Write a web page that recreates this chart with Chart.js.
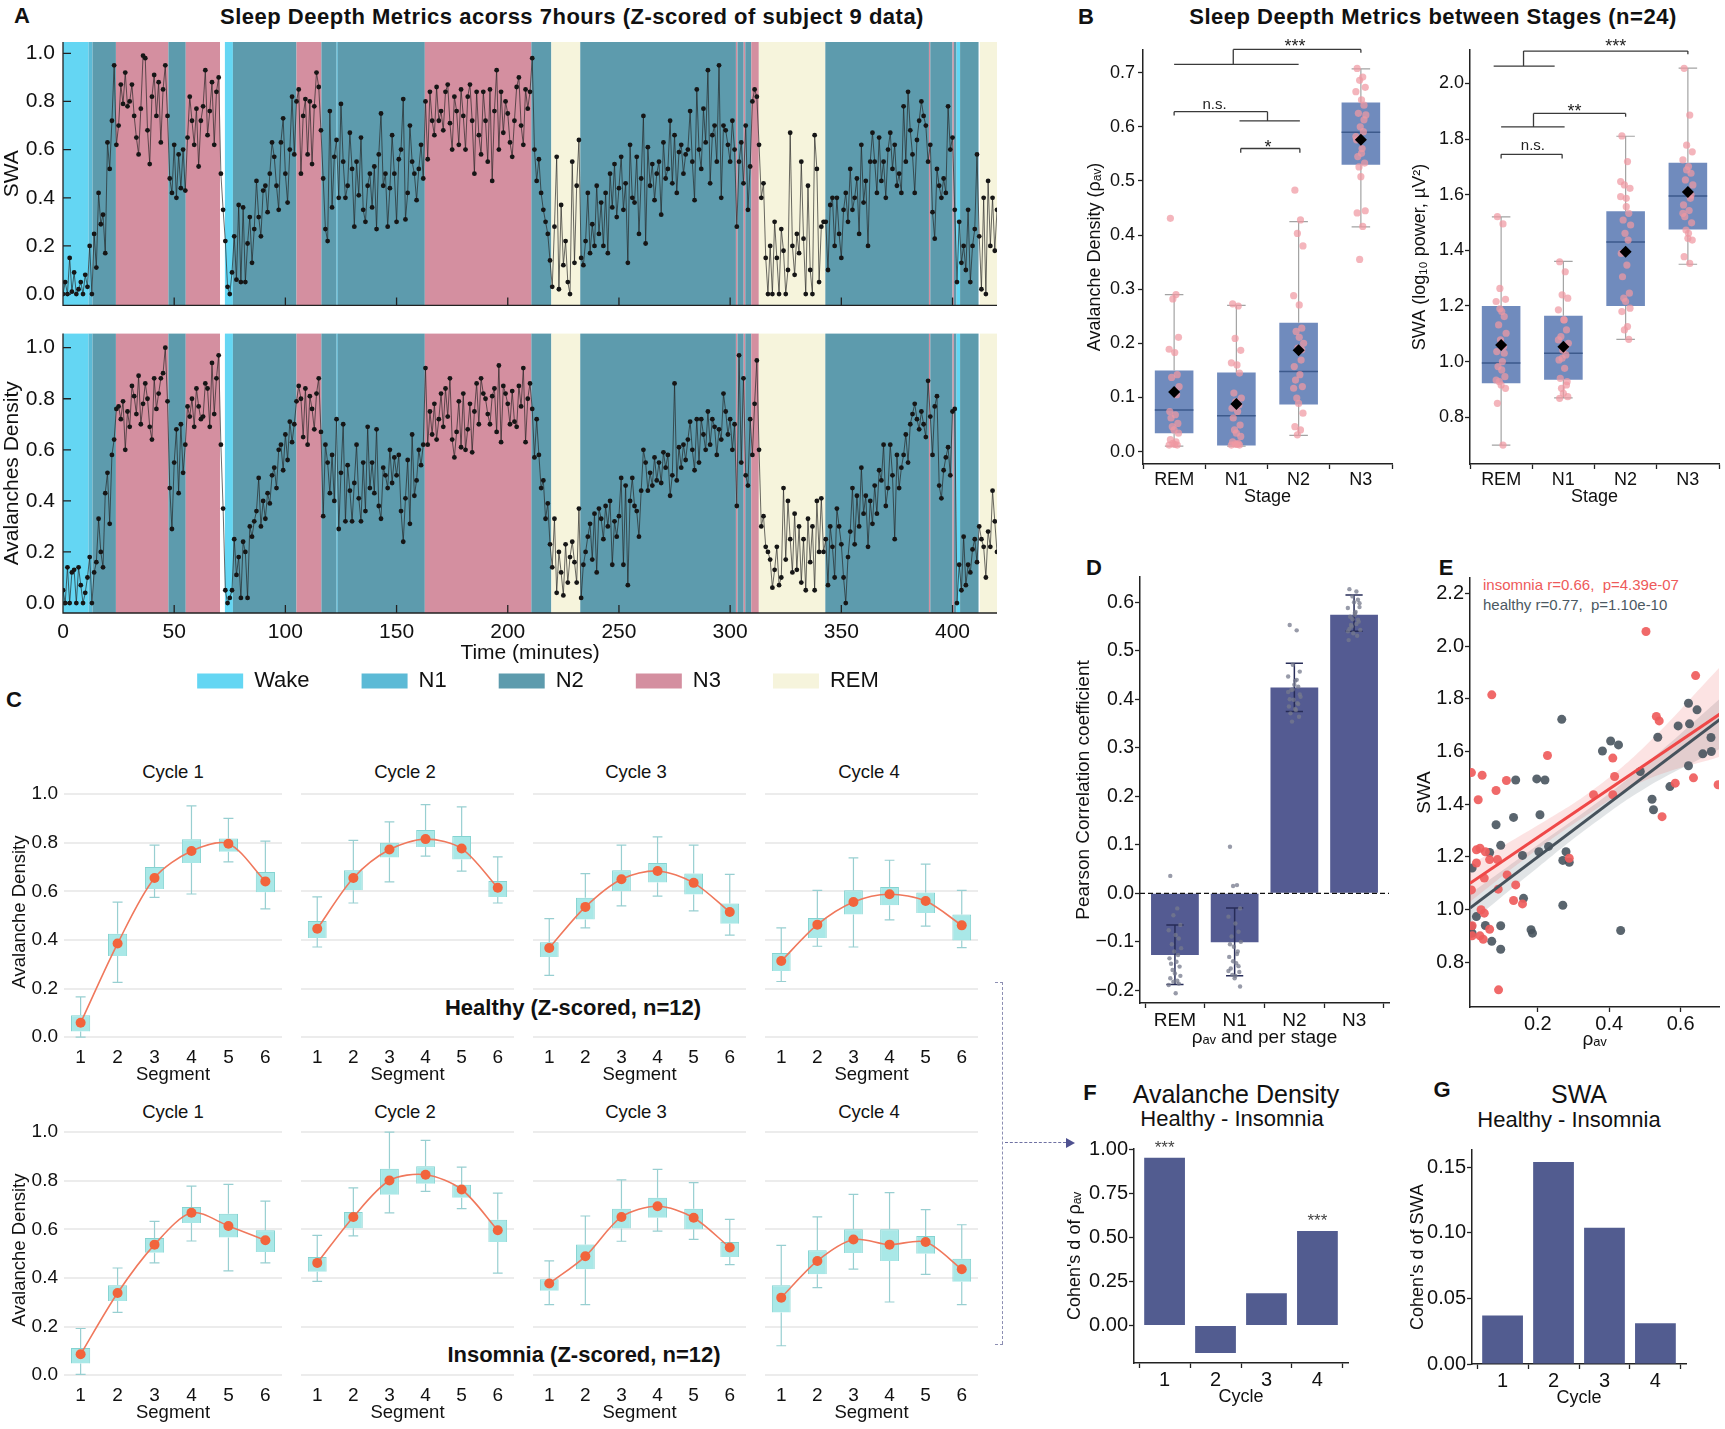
<!DOCTYPE html>
<html>
<head>
<meta charset="utf-8">
<title>Sleep depth metrics</title>
<script src="https://cdn.jsdelivr.net/npm/chart.js@4.4.1/dist/chart.umd.min.js"></script>
<style>
  html, body { margin: 0; padding: 0; background: #fff; }
  body { position: relative; width: 1725px; height: 1429px; overflow: hidden;
         font-family: "Liberation Sans", Arial, Helvetica, sans-serif; color: #111; }
  canvas { position: absolute; }
  .lbl { position: absolute; transform: translate(-50%, -50%); white-space: pre; line-height: 1; }
  .lft { transform: translate(0, -50%); }
  .b { font-weight: bold; }
  .dash { position: absolute; border: 0 dashed #8d8fb3; }
</style>
</head>
<body>

<!-- panel letters and titles -->
<div class="lbl b" style="left:22px;top:16px;font-size:22px">A</div>
<div class="lbl b" style="left:572px;top:17px;font-size:22px;letter-spacing:0.5px">Sleep Deepth Metrics acorss 7hours (Z-scored of subject 9 data)</div>
<div class="lbl b" style="left:1086px;top:17px;font-size:22px">B</div>
<div class="lbl b" style="left:1433px;top:17px;font-size:22px;letter-spacing:0.5px">Sleep Deepth Metrics between Stages (n=24)</div>
<div class="lbl b" style="left:14px;top:700px;font-size:22px">C</div>

<div class="lbl" style="left:173px;top:772px;font-size:18.5px">Cycle 1</div>
<div class="lbl" style="left:405px;top:772px;font-size:18.5px">Cycle 2</div>
<div class="lbl" style="left:636px;top:772px;font-size:18.5px">Cycle 3</div>
<div class="lbl" style="left:869px;top:772px;font-size:18.5px">Cycle 4</div>
<div class="lbl" style="left:173px;top:1112px;font-size:18.5px">Cycle 1</div>
<div class="lbl" style="left:405px;top:1112px;font-size:18.5px">Cycle 2</div>
<div class="lbl" style="left:636px;top:1112px;font-size:18.5px">Cycle 3</div>
<div class="lbl" style="left:869px;top:1112px;font-size:18.5px">Cycle 4</div>
<div class="lbl b" style="left:573px;top:1008px;font-size:22px">Healthy (Z-scored, n=12)</div>
<div class="lbl b" style="left:584px;top:1355px;font-size:22px">Insomnia (Z-scored, n=12)</div>

<div class="lbl b" style="left:1094px;top:568px;font-size:22px">D</div>
<div class="lbl b" style="left:1446px;top:568px;font-size:22px">E</div>
<div class="lbl lft" style="left:1483px;top:584px;font-size:15px;color:#ee5a5a">insomnia r=0.66,  p=4.39e-07</div>
<div class="lbl lft" style="left:1483px;top:604px;font-size:15px;color:#4b5862">healthy r=0.77,  p=1.10e-10</div>

<div class="lbl b" style="left:1090px;top:1093px;font-size:22px">F</div>
<div class="lbl" style="left:1236px;top:1094px;font-size:25px">Avalanche Density</div>
<div class="lbl" style="left:1232px;top:1119px;font-size:22px">Healthy - Insomnia</div>
<div class="lbl b" style="left:1442px;top:1090px;font-size:22px">G</div>
<div class="lbl" style="left:1579px;top:1094px;font-size:25px">SWA</div>
<div class="lbl" style="left:1569px;top:1120px;font-size:22px">Healthy - Insomnia</div>

<!-- dashed connector between C and F -->
<div class="dash" style="left:1002px;top:982px;height:362px;border-left-width:1.5px"></div>
<div class="dash" style="left:995px;top:982px;width:8px;border-top-width:1.5px"></div>
<div class="dash" style="left:995px;top:1344px;width:8px;border-top-width:1.5px"></div>
<div class="dash" style="left:1005px;top:1142px;width:61px;border-top-width:1.5px;border-color:#7072a3"></div>
<div style="position:absolute;left:1066px;top:1138px;width:0;height:0;border-top:5px solid transparent;border-bottom:5px solid transparent;border-left:9px solid #4f5190"></div>

<script>
// ---------- A: one sample per minute, 0..420 min ----------
const swa = [
  0.00,0.05,0.00,0.15,0.01,0.09,0.00,0.02,0.05,0.00,0.08,0.03,
  0.20,0.00,0.25,0.11,0.42,0.29,0.33,0.17,0.63,0.52,0.72,0.95,0.62,
  0.70,0.87,0.79,0.92,0.78,0.80,0.87,0.74,0.65,0.58,0.77,0.99,0.98,0.68,0.54,0.82,0.91,0.74,0.88,0.63,0.85,0.95,0.74,
  0.48,0.42,0.62,0.40,0.58,0.44,0.60,0.43,
  0.65,0.82,0.72,0.62,0.77,0.53,0.72,0.78,0.93,0.66,0.76,0.88,0.62,0.84,0.90,
  0.50,0.35,0.22,0.03,0.00,0.09,
  0.24,0.06,0.37,0.05,0.36,0.05,0.21,0.32,0.13,0.27,0.47,0.32,0.24,0.43,0.45,0.34,0.50,0.63,0.57,0.45,0.35,0.63,0.73,0.50,0.38,0.60,0.82,0.58,0.80,
  0.85,0.50,0.74,0.81,0.58,0.80,0.54,0.78,0.92,0.86,0.68,
  0.48,0.27,0.22,0.76,0.36,0.57,0.64,0.40,0.79,0.55,0.40,0.45,0.67,0.52,0.28,0.55,0.41,0.65,0.35,0.30,0.45,0.50,0.36,0.53,0.27,0.58,0.75,0.45,0.50,0.28,0.44,0.66,0.50,0.30,0.56,0.60,0.81,0.31,0.42,0.70,0.55,0.50,0.39,0.52,0.62,0.48,
  0.80,0.56,0.84,0.72,0.66,0.86,0.72,0.76,0.68,0.84,0.87,0.71,0.60,0.82,0.76,0.62,0.85,0.74,0.60,0.82,0.87,0.72,0.50,0.84,0.66,0.58,0.84,0.72,0.55,0.85,0.47,0.76,0.93,0.60,0.84,0.67,0.80,0.75,0.63,0.57,0.72,0.86,0.90,0.70,0.62,0.85,0.77,0.84,
  0.98,0.60,0.47,0.56,0.42,0.35,0.30,0.25,0.14,
  0.03,0.28,0.57,0.02,0.37,0.12,0.22,0.05,0.00,0.55,0.13,0.45,0.64,
  0.15,0.12,0.22,0.42,0.17,0.29,0.20,0.45,0.25,0.38,0.20,0.42,0.17,0.50,0.36,0.54,0.32,0.44,0.57,0.35,
  0.46,0.13,0.62,0.40,0.38,0.57,0.25,0.48,0.74,0.21,0.61,0.45,0.54,0.39,0.50,0.55,0.33,0.63,0.48,0.52,
  0.72,0.46,0.66,0.42,0.59,0.62,0.50,0.58,0.60,0.76,0.55,0.39,0.85,0.60,0.52,0.77,0.63,0.93,0.46,0.66,
  0.70,0.55,0.95,0.40,0.70,0.68,0.62,0.55,0.72,0.60,
  0.28,0.55,0.63,0.46,0.70,0.35,0.53,0.80,0.85,0.82,0.62,
  0.40,0.46,0.15,0.00,0.20,0.00,0.30,0.15,0.00,0.27,0.18,0.00,0.10,0.67,0.20,0.08,0.25,0.17,0.55,0.23,0.00,0.45,0.10,0.00,0.66,0.52,0.05,0.28,0.30,
  0.30,0.10,0.37,0.40,0.20,0.40,0.25,0.15,0.35,0.42,0.30,0.52,0.35,0.40,0.48,0.25,0.62,0.38,0.47,0.20,
  0.55,0.67,0.55,0.42,0.65,0.47,0.55,0.40,0.60,0.67,0.52,0.62,0.45,0.50,0.42,0.78,0.55,0.84,0.68,0.58,
  0.42,0.64,0.72,0.80,0.74,0.70,0.55,0.62,0.34,0.23,0.52,0.45,0.40,0.48,0.42,0.78,0.60,0.65,
  0.35,0.05,0.30,0.13,0.20,0.10,0.35,0.05,0.20,0.27,0.58,
  0.24,0.02,0.40,0.00,0.47,0.20,0.40,0.18,0.35
];
const avDensity = [
  0.05,0.00,0.14,0.00,0.12,0.13,0.00,0.14,0.07,0.00,0.04,0.10,
  0.18,0.00,0.12,0.16,0.33,0.20,0.14,0.43,0.51,0.31,0.58,0.64,0.76,
  0.77,0.72,0.79,0.60,0.75,0.69,0.85,0.81,0.74,0.89,0.70,0.78,0.86,0.80,0.69,0.64,0.88,0.76,0.82,0.88,0.90,1.00,0.79,
  0.45,0.29,0.55,0.68,0.43,0.70,0.51,0.62,
  0.77,0.73,0.80,0.69,0.84,0.77,0.72,0.73,0.86,0.84,0.69,0.94,0.74,0.88,0.97,
  0.62,0.37,0.05,0.00,0.02,0.05,
  0.25,0.11,0.18,0.02,0.24,0.20,0.02,0.30,0.26,0.32,0.36,0.49,0.30,0.40,0.33,0.43,0.39,0.50,0.53,0.45,0.60,0.62,0.52,0.66,0.56,0.71,0.63,0.70,0.79,
  0.85,0.80,0.65,0.84,0.62,0.81,0.76,0.68,0.82,0.88,0.67,
  0.34,0.62,0.55,0.43,0.58,0.40,0.72,0.29,0.51,0.70,0.32,0.54,0.44,0.32,0.47,0.62,0.41,0.32,0.55,0.36,0.69,0.45,0.55,0.43,0.68,0.38,0.33,0.53,0.50,0.45,0.60,0.47,0.57,0.50,0.58,0.36,0.24,0.41,0.56,0.31,0.66,0.42,0.48,0.60,0.54,0.62,
  0.92,0.62,0.75,0.66,0.78,0.64,0.72,0.82,0.69,0.84,0.73,0.88,0.64,0.57,0.67,0.79,0.61,0.82,0.60,0.68,0.78,0.59,0.75,0.86,0.70,0.88,0.82,0.80,0.74,0.70,0.81,0.84,0.67,0.93,0.63,0.85,0.82,0.78,0.70,0.83,0.71,0.69,0.85,0.77,0.92,0.63,0.80,0.86,
  0.76,0.57,0.72,0.58,0.45,0.48,0.33,0.39,0.23,
  0.14,0.33,0.04,0.20,0.12,0.03,0.23,0.08,0.18,0.24,0.16,0.08,0.37,
  0.02,0.15,0.20,0.26,0.31,0.17,0.35,0.12,0.37,0.33,0.25,0.38,0.30,0.40,0.15,0.32,0.26,0.34,0.49,0.15,
  0.46,0.07,0.40,0.49,0.38,0.36,0.26,0.44,0.60,0.55,0.44,0.51,0.46,0.57,0.48,0.55,0.47,0.59,0.53,0.58,
  0.42,0.50,0.86,0.48,0.61,0.53,0.62,0.56,0.64,0.71,0.60,0.52,0.72,0.55,0.72,0.66,0.60,0.75,0.62,0.72,
  0.69,0.58,0.68,0.64,0.82,0.75,0.66,0.72,0.60,0.70,
  0.38,0.97,0.55,0.88,0.50,0.46,0.72,0.58,0.78,0.95,0.60,
  0.30,0.34,0.22,0.20,0.17,0.06,0.13,0.22,0.07,0.10,0.45,0.17,0.40,0.25,0.12,0.35,0.13,0.30,0.08,0.25,0.05,0.33,0.16,0.30,0.05,0.40,0.20,0.41,0.20,
  0.25,0.07,0.30,0.22,0.10,0.37,0.30,0.23,0.10,0.00,0.18,0.28,0.45,0.23,0.42,0.30,0.53,0.35,0.42,0.22,
  0.40,0.31,0.46,0.35,0.52,0.48,0.62,0.38,0.45,0.62,0.50,0.25,0.58,0.45,0.53,0.58,0.66,0.55,0.70,0.74,
  0.78,0.72,0.68,0.75,0.70,0.65,0.87,0.73,0.58,0.77,0.81,0.46,0.41,0.52,0.57,0.61,0.50,0.75,
  0.76,0.00,0.15,0.05,0.26,0.07,0.15,0.12,0.21,0.25,0.16,
  0.30,0.25,0.22,0.10,0.28,0.22,0.44,0.32,0.20
];
const minutes = swa.map((_, i) => i);
const timeTicks = [0, 50, 100, 150, 200, 250, 300, 350, 400];
const unitTicks = [0, 0.2, 0.4, 0.6, 0.8, 1.0];

// hypnogram (minutes)
const stageStart = [0,11.5,13.3,23.8,47.4,55.2,72.8,76.4,105,116.2,123,123.6,162.7,210.6,219.6,232.6,302.6,303.3,306.1,306.8,309.5,312.9,342.8,389.4,390,400,400.6,401.8,403.4,412.3];
const stageEnd   = [11.5,13.3,23.8,47.4,55.2,70.6,76.4,105,116.2,123,123.6,162.7,210.6,219.6,232.6,302.6,303.3,306.1,306.8,309.5,312.9,342.8,389.4,390,400,400.6,401.8,403.4,411.7,420];
const stageKind  = ['Wake','N1','N2','N3','N2','N3','Wake','N2','N3','N2','N1','N2','N3','N2','REM','N2','N3','N2','N3','N2','N3','REM','N2','N3','N2','N3','N2','Wake','N2','REM'];
const stageNames = ['Wake', 'N1', 'N2', 'N3', 'REM'];
const stageColors = { Wake: '#64d6f3', N1: '#5cbad6', N2: '#5d9bad', N3: '#d48fa0', REM: '#f6f4dc' };

// ---------- B ----------
const bStages = ['REM', 'N1', 'N2', 'N3'];
const avQ1 = [0.034, 0.011, 0.087, 0.530];
const avMed = [0.077, 0.066, 0.148, 0.590];
const avQ3 = [0.150, 0.146, 0.238, 0.645];
const avLo = [0.010, 0.010, 0.030, 0.415];
const avHi = [0.290, 0.270, 0.425, 0.707];
const avMean = [0.110, 0.088, 0.187, 0.576];
const avPts = [
  [0.431,0.290,0.282,0.211,0.189,0.183,0.142,0.137,0.120,0.111,0.105,0.074,0.068,0.062,0.052,0.046,0.040,0.034,0.022,0.018,0.015,0.012,0.012,0.013],
  [0.273,0.269,0.209,0.187,0.164,0.160,0.145,0.108,0.099,0.092,0.086,0.080,0.074,0.062,0.049,0.040,0.034,0.028,0.018,0.015,0.014,0.012,0.012,0.013],
  [0.483,0.428,0.403,0.380,0.288,0.271,0.228,0.222,0.200,0.191,0.169,0.157,0.142,0.132,0.120,0.099,0.089,0.071,0.046,0.040,0.031,0.188,0.117,0.211],
  [0.708,0.692,0.686,0.673,0.665,0.650,0.640,0.625,0.622,0.600,0.591,0.576,0.560,0.545,0.533,0.526,0.508,0.445,0.441,0.416,0.355,0.613,0.582,0.551]
];
const swQ1 = [0.922, 0.935, 1.200, 1.475];
const swMed = [0.995, 1.030, 1.430, 1.595];
const swQ3 = [1.200, 1.165, 1.540, 1.715];
const swLo = [0.700, 0.870, 1.080, 1.350];
const swHi = [1.520, 1.360, 1.810, 2.055];
const swMean = [1.060, 1.053, 1.395, 1.610];
const swPts = [
  [1.521,1.495,1.263,1.224,1.216,1.180,1.162,1.132,1.102,1.078,1.054,1.036,1.000,0.982,0.946,0.928,0.916,0.904,0.850,0.700,1.190,1.030,0.934,0.970],
  [1.359,1.323,1.240,1.228,1.186,1.150,1.114,1.090,1.066,1.042,1.024,1.006,0.976,0.940,0.928,0.904,0.886,0.874,0.868,1.054,1.012,0.916,1.078,1.150],
  [1.811,1.719,1.635,1.623,1.593,1.587,1.533,1.509,1.491,1.461,1.437,1.389,1.347,1.305,1.246,1.228,1.216,1.192,1.180,1.126,1.114,1.080,1.647,1.557],
  [2.054,1.886,1.778,1.754,1.725,1.701,1.677,1.653,1.635,1.611,1.587,1.563,1.543,1.521,1.499,1.473,1.443,1.437,1.377,1.353,1.689,1.599,1.533,1.461]
];
const jitter = [-0.06,0.03,-0.02,0.07,-0.08,0.01,0.05,-0.04,0.08,-0.01,0.04,-0.07,0.02,-0.05,0.06,-0.03,0.00,0.07,-0.06,0.03,-0.02,0.05,-0.08,0.01];

// ---------- C: per cycle, six segments ----------
const segments = [1, 2, 3, 4, 5, 6];
const healthyMean = [[0.059,0.385,0.655,0.766,0.796,0.641],[0.446,0.655,0.772,0.815,0.776,0.615],[0.367,0.536,0.650,0.684,0.635,0.515],[0.313,0.463,0.556,0.588,0.560,0.460]];
const healthyQ1   = [[0.023,0.334,0.610,0.717,0.763,0.596],[0.408,0.604,0.739,0.783,0.731,0.577],[0.330,0.484,0.600,0.636,0.587,0.467],[0.272,0.408,0.505,0.543,0.511,0.398]];
const healthyQ3   = [[0.090,0.425,0.700,0.814,0.817,0.680],[0.478,0.687,0.800,0.852,0.828,0.643],[0.391,0.574,0.687,0.717,0.673,0.550],[0.346,0.490,0.604,0.618,0.595,0.505]];
const healthyLo   = [[0.000,0.225,0.575,0.589,0.721,0.528],[0.371,0.552,0.639,0.745,0.683,0.552],[0.254,0.450,0.540,0.580,0.520,0.420],[0.229,0.374,0.371,0.483,0.457,0.368]];
const healthyHi   = [[0.166,0.556,0.790,0.952,0.900,0.807],[0.577,0.810,0.886,0.957,0.948,0.742],[0.488,0.673,0.790,0.824,0.790,0.670],[0.450,0.604,0.738,0.728,0.712,0.604]];
const insomniaMean = [[0.086,0.338,0.537,0.668,0.614,0.555],[0.462,0.651,0.801,0.825,0.764,0.596],[0.377,0.489,0.651,0.695,0.648,0.525],[0.319,0.470,0.558,0.537,0.548,0.436]];
const insomniaQ1   = [[0.048,0.305,0.504,0.626,0.566,0.507],[0.425,0.605,0.742,0.788,0.730,0.548],[0.347,0.436,0.603,0.648,0.600,0.486],[0.258,0.415,0.503,0.470,0.500,0.384]];
const insomniaQ3   = [[0.112,0.370,0.564,0.692,0.664,0.596],[0.486,0.671,0.849,0.860,0.784,0.640],[0.395,0.538,0.685,0.730,0.685,0.548],[0.370,0.514,0.600,0.600,0.573,0.479]];
const insomniaLo   = [[0.003,0.258,0.462,0.552,0.429,0.462],[0.386,0.573,0.668,0.756,0.685,0.420],[0.290,0.290,0.551,0.593,0.559,0.455],[0.121,0.360,0.436,0.301,0.415,0.290]];
const insomniaHi   = [[0.192,0.441,0.633,0.778,0.785,0.716],[0.575,0.771,1.000,0.966,0.856,0.749],[0.470,0.655,0.804,0.847,0.792,0.641],[0.534,0.651,0.744,0.751,0.681,0.619]];

// ---------- D ----------
const dMean = [-0.127, -0.101, 0.424, 0.574];
const dErrLo = [-0.188, -0.170, 0.375, 0.540];
const dErrHi = [-0.065, -0.030, 0.474, 0.615];
const dPts = [
  [0.036,-0.031,-0.045,-0.065,-0.076,-0.086,-0.093,-0.105,-0.113,-0.120,-0.127,-0.134,-0.141,-0.145,-0.151,-0.158,-0.165,-0.170,-0.175,-0.180,-0.182,-0.186,-0.189,-0.206],
  [0.096,0.017,0.015,-0.031,-0.048,-0.062,-0.079,-0.089,-0.100,-0.110,-0.120,-0.131,-0.144,-0.155,-0.162,-0.168,-0.175,-0.192,-0.105,-0.125,-0.140,-0.150,-0.160,-0.170],
  [0.553,0.542,0.471,0.457,0.447,0.438,0.426,0.419,0.405,0.399,0.392,0.385,0.378,0.371,0.364,0.354,0.430,0.410,0.400,0.440,0.420,0.390,0.415,0.380],
  [0.627,0.622,0.612,0.598,0.588,0.574,0.564,0.553,0.543,0.536,0.531,0.522,0.580,0.570,0.560,0.550,0.600,0.590,0.545,0.555,0.565,0.605,0.540,0.578]
];
const dTicks = [-0.2, -0.1, 0, 0.1, 0.2, 0.3, 0.4, 0.5, 0.6];

// ---------- E ----------
const insX = [0.503,0.071,0.642,0.532,0.540,0.227,0.410,0.415,0.014,0.044,0.033,0.083,0.112,0.356,0.410,0.585,0.636,0.705,0.548,0.028,0.038,0.053,0.065,0.087,0.028,0.050,0.114,0.138,0.089,0.132,0.157,0.288,0.041,0.050,0.016,0.016,0.038,0.047,0.065,0.090,0.014];
const insY = [2.055,1.815,1.888,1.733,1.716,1.585,1.575,1.505,1.520,1.510,1.417,1.452,1.490,1.436,1.436,1.480,1.500,1.474,1.353,1.227,1.233,1.220,1.190,1.190,1.177,1.120,1.132,1.094,1.078,1.035,1.022,1.195,1.000,0.987,0.939,0.901,0.901,0.888,0.926,0.696,1.075];
const hlthX = [0.267,0.622,0.646,0.625,0.593,0.536,0.685,0.404,0.426,0.381,0.662,0.686,0.622,0.570,0.520,0.487,0.524,0.138,0.197,0.220,0.132,0.206,0.083,0.096,0.065,0.203,0.157,0.230,0.279,0.288,0.270,0.016,0.160,0.270,0.096,0.053,0.071,0.096,0.181,0.185,0.432,0.014,0.016,0.028];
const hlthY = [1.722,1.783,1.758,1.705,1.697,1.654,1.653,1.640,1.625,1.602,1.591,1.600,1.546,1.467,1.419,1.524,1.379,1.492,1.496,1.492,1.350,1.360,1.322,1.244,1.217,1.220,1.206,1.240,1.220,1.180,1.187,1.158,1.043,1.017,0.939,0.940,0.880,0.850,0.924,0.911,0.921,0.936,0.911,0.974];
const fitX = [0.01, 0.71];
const insFit = [1.100, 1.742];
const hlthFit = [1.006, 1.722];
const bandX = [0.01, 0.2, 0.35, 0.5, 0.71];
const insBandLo = [1.03, 1.23, 1.37, 1.49, 1.58];
const insBandHi = [1.17, 1.32, 1.45, 1.62, 1.92];
const hlthBandLo = [0.95, 1.16, 1.32, 1.46, 1.61];
const hlthBandHi = [1.06, 1.245, 1.39, 1.55, 1.80];

// ---------- F, G ----------
const cycles = ['1', '2', '3', '4'];
const cohenAv = [0.95, -0.157, 0.183, 0.535];
const cohenAvSig = ['***', '', '', '***'];
const cohenSwa = [0.037, 0.154, 0.104, 0.031];

// ================= drawing =================
const FONT = '"Liberation Sans", Arial, "DejaVu Sans", sans-serif';
Chart.defaults.font.family = FONT;
Chart.defaults.color = '#111';
Chart.defaults.animation = false;
Chart.defaults.responsive = false;
Chart.defaults.maintainAspectRatio = false;
Chart.defaults.events = [];
Chart.defaults.plugins.legend.display = false;
Chart.defaults.plugins.tooltip.enabled = false;

const ink = '#222';

// canvas placed so that the chart area lands on `area` = [l, t, r, b]; m = [left, top, right, bottom] margins
function mount(area, m) {
  const c = document.createElement('canvas');
  const w = area[2] - area[0] + m[0] + m[2];
  const h = area[3] - area[1] + m[1] + m[3];
  c.width = w; c.height = h;
  c.style.left = (area[0] - m[0]) + 'px';
  c.style.top = (area[1] - m[1]) + 'px';
  c.style.width = w + 'px'; c.style.height = h + 'px';
  document.body.appendChild(c);
  return c;
}
const pad = m => ({ padding: { left: 0, top: m[1], right: m[2], bottom: 0 } });
const fixW = w => s => { s.width = w; };
const fixH = h => s => { s.height = h; };
const setTicks = vals => s => { s.ticks = vals.map(v => ({ value: v })); };
const signed = v => (v < -1e-9 ? '\u2212' : '') + Math.abs(v).toFixed(1);

function spine(extra) {
  return Object.assign({
    grid: { display: true, drawOnChartArea: false, drawTicks: true, tickLength: 5, tickColor: ink, tickWidth: 1.3 },
    border: { display: true, color: ink, width: 1.5 }
  }, extra);
}

// hypnogram background
const stageBands = {
  id: 'stageBands',
  beforeDatasetsDraw(chart) {
    const { ctx, chartArea: a, scales: { x } } = chart;
    ctx.save();
    stageStart.forEach((s, i) => {
      const x0 = x.getPixelForValue(s), x1 = x.getPixelForValue(stageEnd[i]);
      ctx.fillStyle = stageColors[stageKind[i]];
      ctx.fillRect(x0, a.top, Math.max(x1 - x0, 1), a.bottom - a.top);
    });
    ctx.restore();
  }
};

// inward tick marks and spines for panel A
const innerTicks = {
  id: 'innerTicks',
  afterDatasetsDraw(chart) {
    const { ctx, chartArea: a, scales: { x, y } } = chart;
    ctx.save();
    ctx.strokeStyle = ink; ctx.lineWidth = 1.3;
    ctx.beginPath();
    x.ticks.forEach(t => { const p = x.getPixelForValue(t.value); ctx.moveTo(p, a.bottom); ctx.lineTo(p, a.bottom - 8); });
    y.ticks.forEach(t => { const p = y.getPixelForValue(t.value); ctx.moveTo(a.left, p); ctx.lineTo(a.left + 8, p); });
    ctx.moveTo(a.left, a.top); ctx.lineTo(a.left, a.bottom); ctx.lineTo(a.right, a.bottom);
    ctx.stroke();
    ctx.restore();
  }
};

// whiskers / medians for box datasets, error bars for bar datasets
const whiskers = {
  id: 'whiskers',
  afterDatasetDraw(chart, args) {
    const ds = chart.data.datasets[args.index];
    if (!ds.hi) return;
    const { ctx } = chart, y = chart.scales.y;
    ctx.save();
    args.meta.data.forEach((bar, i) => {
      const cap = bar.width * ds.capRatio;
      const pHi = y.getPixelForValue(ds.hi[i]), pLo = y.getPixelForValue(ds.lo[i]);
      ctx.strokeStyle = ds.whiskerColor; ctx.lineWidth = ds.whiskerWidth || 1.2;
      ctx.beginPath();
      if (ds.errBar) {
        ctx.moveTo(bar.x, pHi); ctx.lineTo(bar.x, pLo);
      } else {
        const r = ds.data[i].y;
        ctx.moveTo(bar.x, y.getPixelForValue(Math.max(r[0], r[1]))); ctx.lineTo(bar.x, pHi);
        ctx.moveTo(bar.x, y.getPixelForValue(Math.min(r[0], r[1]))); ctx.lineTo(bar.x, pLo);
      }
      ctx.moveTo(bar.x - cap, pHi); ctx.lineTo(bar.x + cap, pHi);
      ctx.moveTo(bar.x - cap, pLo); ctx.lineTo(bar.x + cap, pLo);
      ctx.stroke();
      if (ds.med) {
        const pm = y.getPixelForValue(ds.med[i]);
        ctx.strokeStyle = ds.medianColor; ctx.lineWidth = 1.5;
        ctx.beginPath(); ctx.moveTo(bar.x - bar.width / 2, pm); ctx.lineTo(bar.x + bar.width / 2, pm); ctx.stroke();
      }
    });
    ctx.restore();
  }
};

// significance brackets, given in data units
function makeBrackets(lines, notes) {
  return {
    id: 'brackets',
    afterDraw(chart) {
      const { ctx, scales: { x, y } } = chart;
      ctx.save();
      ctx.strokeStyle = '#3a3a3a'; ctx.lineWidth = 1.3;
      ctx.beginPath();
      lines.forEach(([x1, y1, x2, y2]) => {
        ctx.moveTo(x.getPixelForValue(x1), y.getPixelForValue(y1));
        ctx.lineTo(x.getPixelForValue(x2), y.getPixelForValue(y2));
      });
      ctx.stroke();
      ctx.fillStyle = '#222'; ctx.textAlign = 'center'; ctx.textBaseline = 'alphabetic';
      notes.forEach(([t, xv, yv, size]) => {
        ctx.font = size + 'px ' + FONT;
        ctx.fillText(t, x.getPixelForValue(xv), y.getPixelForValue(yv));
      });
      ctx.restore();
    }
  };
}

const zeroLine = {
  id: 'zeroLine',
  afterDatasetsDraw(chart) {
    const { ctx, chartArea: a, scales: { y } } = chart;
    const p = y.getPixelForValue(0);
    ctx.save(); ctx.setLineDash([5, 3]); ctx.strokeStyle = '#111'; ctx.lineWidth = 1.3;
    ctx.beginPath(); ctx.moveTo(a.left, p); ctx.lineTo(a.right, p); ctx.stroke(); ctx.restore();
  }
};

function makeStars(marks) {
  return {
    id: 'stars',
    afterDatasetsDraw(chart) {
      const { ctx } = chart, meta = chart.getDatasetMeta(0);
      ctx.save(); ctx.fillStyle = '#444'; ctx.font = '17px ' + FONT;
      ctx.textAlign = 'center'; ctx.textBaseline = 'alphabetic';
      meta.data.forEach((bar, i) => { if (marks[i]) ctx.fillText(marks[i], bar.x, Math.min(bar.y, bar.base) - 5); });
      ctx.restore();
    }
  };
}

// ---------- A ----------
function timeSeries(values, area, m, yMin, yMax, yTitle, showX) {
  return new Chart(mount(area, m), {
    type: 'line',
    data: { datasets: [{
      data: values.map((v, i) => ({ x: minutes[i], y: v })),
      borderColor: 'rgba(35,35,35,0.75)', borderWidth: 0.9,
      pointRadius: 2.4, pointBackgroundColor: '#161616', pointBorderWidth: 0, tension: 0
    }]},
    options: {
      layout: pad(m),
      scales: {
        x: { type: 'linear', min: 0, max: 420, afterFit: fixH(m[3]), afterBuildTicks: setTicks(timeTicks),
             grid: { display: false, drawTicks: false }, border: { display: false },
             ticks: { display: showX, font: { size: 21 }, padding: 7, color: '#111' },
             title: { display: showX, text: 'Time (minutes)', font: { size: 21 }, padding: 0, color: '#111' } },
        y: { min: yMin, max: yMax, afterFit: fixW(m[0]), afterBuildTicks: setTicks(unitTicks),
             grid: { display: false, drawTicks: false }, border: { display: false },
             ticks: { font: { size: 21 }, padding: 8, color: '#111', callback: v => v.toFixed(1) },
             title: { display: true, text: yTitle, font: { size: 21 }, padding: 0, color: '#111' } }
      }
    },
    plugins: [stageBands, innerTicks]
  });
}
timeSeries(swa, [63, 42, 997, 322], [63, 30, 20, 4], -0.047, 1.047, 'SWA', false);
timeSeries(avDensity, [63, 333, 997, 613], [63, 20, 20, 53], -0.039, 1.055, 'Avalanches Density', true);

// stage legend
(function () {
  const c = document.createElement('canvas');
  c.width = 800; c.height = 150;
  c.style.left = '138px'; c.style.top = '618px';
  document.body.appendChild(c);
  new Chart(c, {
    type: 'bar',
    data: { labels: [], datasets: stageNames.map(n => ({ label: n, data: [], backgroundColor: stageColors[n], borderWidth: 0 })) },
    options: {
      layout: { padding: 0 },
      scales: { x: { display: false }, y: { display: false } },
      plugins: { legend: { display: true, position: 'top',
        labels: { boxWidth: 46, boxHeight: 15, padding: 52, font: { size: 22 }, color: '#111' } } }
    }
  });
})();

// ---------- B ----------
function stageBoxes(area, m, s) {
  return new Chart(mount(area, m), {
    type: 'bar',
    data: { datasets: [
      { type: 'scatter', data: s.mean.map((v, i) => ({ x: i, y: v })), pointStyle: 'rectRot', pointRadius: 6, backgroundColor: '#000', borderWidth: 0 },
      { type: 'scatter', data: s.pts.flatMap((col, i) => col.map((v, k) => ({ x: i + jitter[k], y: v }))),
        pointRadius: 3.6, backgroundColor: 'rgba(240,152,162,0.72)', borderWidth: 0 },
      { type: 'bar', data: s.q1.map((v, i) => ({ x: i, y: [v, s.q3[i]] })), backgroundColor: 'rgba(80,114,174,0.82)', borderWidth: 0,
        barPercentage: 0.62, categoryPercentage: 1, lo: s.lo, hi: s.hi, med: s.med,
        whiskerColor: '#a3a3a3', medianColor: '#3d5a8c', capRatio: 0.24 }
    ]},
    options: {
      layout: pad(m),
      scales: {
        x: spine({ type: 'linear', min: -0.5, max: 3.5, offset: false, afterFit: fixH(m[3]), afterBuildTicks: setTicks([0, 1, 2, 3]),
          ticks: { font: { size: 18 }, padding: 0, color: '#111', callback: v => bStages[v] },
          title: { display: true, text: 'Stage', font: { size: 18 }, padding: 0, color: '#111' } }),
        y: spine({ min: s.yMin, max: s.yMax, afterFit: fixW(m[0]), afterBuildTicks: setTicks(s.ticks),
          ticks: { font: { size: 18 }, padding: s.tickPad, color: '#111', callback: v => v.toFixed(1) },
          title: { display: true, text: s.title, font: { size: 18 }, padding: 0, color: '#111' } })
      }
    },
    plugins: [whiskers, makeBrackets(s.lines, s.notes)]
  });
}
stageBoxes([1143, 50, 1392, 464], [59, 48, 12, 44], {
  q1: avQ1, q3: avQ3, med: avMed, lo: avLo, hi: avHi, mean: avMean, pts: avPts,
  yMin: -0.023, yMax: 0.742, ticks: [0, 0.1, 0.2, 0.3, 0.4, 0.5, 0.6, 0.7], tickPad: 3,
  title: 'Avalanche Density (\u03C1\u2090\u1D65)',
  lines: [[0, 0.7155, 2, 0.7155], [0.95, 0.7155, 0.95, 0.743], [0.95, 0.743, 3, 0.743], [3, 0.743, 3, 0.737],
          [0, 0.621, 0, 0.628], [0, 0.628, 1.5, 0.628], [1.5, 0.628, 1.5, 0.611], [1.05, 0.611, 2.02, 0.611],
          [1.07, 0.552, 1.07, 0.560], [1.07, 0.560, 2.02, 0.560], [2.02, 0.560, 2.02, 0.552]],
  notes: [['***', 1.94, 0.739, 18], ['n.s.', 0.65, 0.633, 15], ['*', 1.51, 0.552, 18]]
});
stageBoxes([1470, 50, 1719, 464], [61, 48, 6, 44], {
  q1: swQ1, q3: swQ3, med: swMed, lo: swLo, hi: swHi, mean: swMean, pts: swPts,
  yMin: 0.632, yMax: 2.12, ticks: [0.8, 1.0, 1.2, 1.4, 1.6, 1.8, 2.0], tickPad: 1,
  title: 'SWA (log\u2081\u2080 power, \u00B5V\u00B2)',
  lines: [[-0.12, 2.062, 0.86, 2.062], [0.36, 2.062, 0.36, 2.116], [0.36, 2.116, 3, 2.116], [3, 2.116, 3, 2.105],
          [0, 1.844, 1.02, 1.844], [0.52, 1.844, 0.52, 1.892], [0.52, 1.892, 2, 1.892], [2, 1.892, 2, 1.88],
          [0, 1.73, 0, 1.745], [0, 1.745, 0.98, 1.745], [0.98, 1.745, 0.98, 1.73]],
  notes: [['***', 1.84, 2.1135, 18], ['**', 1.18, 1.88, 18], ['n.s.', 0.51, 1.76, 15]]
});

// ---------- C ----------
function cyclePanel(area, m, mean, q1, q3, lo, hi, showY) {
  return new Chart(mount(area, m), {
    type: 'bar',
    data: { datasets: [
      { type: 'line', data: mean.map((v, i) => ({ x: segments[i], y: v })), borderColor: '#f0785c', borderWidth: 1.6,
        pointRadius: 5, pointBackgroundColor: '#f2643c', pointBorderWidth: 0, tension: 0.3 },
      { type: 'bar', data: q1.map((v, i) => ({ x: segments[i], y: [v, q3[i]] })), backgroundColor: 'rgba(160,230,228,0.9)',
        borderColor: '#84d3d1', borderWidth: 1, barPercentage: 0.52, categoryPercentage: 1,
        lo: lo, hi: hi, whiskerColor: '#98cfd1', capRatio: 0.26 }
    ]},
    options: {
      layout: pad(m),
      scales: {
        x: { type: 'linear', min: 0.55, max: 6.45, offset: false, afterFit: fixH(m[3]), afterBuildTicks: setTicks(segments),
             grid: { display: false, drawTicks: false }, border: { display: false },
             ticks: { font: { size: 19 }, padding: 4, color: '#111' },
             title: { display: true, text: 'Segment', font: { size: 18.5 }, padding: 0, color: '#111' } },
        y: { min: -0.02, max: 1.05, afterFit: fixW(m[0]), afterBuildTicks: setTicks(unitTicks),
             grid: { color: '#ececec', lineWidth: 2, drawTicks: false }, border: { display: false },
             ticks: { display: showY, font: { size: 19 }, padding: 6, color: '#111', callback: v => v.toFixed(1) },
             title: { display: showY, text: 'Avalanche Density', font: { size: 18.5 }, padding: 0, color: '#111' } }
      }
    },
    plugins: [whiskers]
  });
}
const panelX = [[64, 282], [296, 514], [528, 746], [760, 978]];
panelX.forEach(([l, r], k) => {
  const m = k === 0 ? [55, 25, 10, 44] : [0, 25, 10, 44];
  cyclePanel([l, 782, r, 1042], m, healthyMean[k], healthyQ1[k], healthyQ3[k], healthyLo[k], healthyHi[k], k === 0);
  cyclePanel([l, 1120, r, 1380], m, insomniaMean[k], insomniaQ1[k], insomniaQ3[k], insomniaLo[k], insomniaHi[k], k === 0);
});

// ---------- D ----------
new Chart(mount([1140, 577, 1389, 1003], [68, 30, 12, 46]), {
  type: 'bar',
  data: { datasets: [
    { type: 'scatter', data: dPts.flatMap((col, i) => col.map((v, k) => ({ x: i + jitter[k] * 1.3, y: v }))),
      pointRadius: 2.2, backgroundColor: 'rgba(118,122,140,0.75)', borderWidth: 0 },
    { type: 'bar', data: dMean.map((v, i) => ({ x: i, y: v })), backgroundColor: '#545b92', borderWidth: 0,
      barPercentage: 0.8, categoryPercentage: 1, lo: dErrLo, hi: dErrHi, errBar: true,
      whiskerColor: '#272c58', whiskerWidth: 1.5, capRatio: 0.18 }
  ]},
  options: {
    layout: pad([68, 30, 12, 46]),
    scales: {
      x: spine({ type: 'linear', min: -0.585, max: 3.585, offset: false, afterFit: fixH(46), afterBuildTicks: setTicks([0, 1, 2, 3]),
        ticks: { font: { size: 19 }, padding: 1, color: '#111', callback: v => bStages[v] },
        title: { display: true, text: '\u03C1\u2090\u1D65 and per stage', font: { size: 19 }, padding: 0, color: '#111' } }),
      y: spine({ min: -0.226, max: 0.652, afterFit: fixW(68), afterBuildTicks: setTicks(dTicks),
        ticks: { font: { size: 19.5 }, padding: 1, color: '#111', callback: v => signed(v) },
        title: { display: true, text: 'Pearson Correlation coefficient', font: { size: 19 }, padding: 0, color: '#111' } })
    }
  },
  plugins: [whiskers, zeroLine]
});

// ---------- E ----------
const pairs = (xs, ys) => xs.map((x, i) => ({ x: x, y: ys[i] }));
new Chart(mount([1470, 578, 1719, 1007], [57, 30, 6, 44]), {
  type: 'scatter',
  data: { datasets: [
    { type: 'line', data: pairs(fitX, insFit), borderColor: '#ef4848', borderWidth: 3, pointRadius: 0 },
    { type: 'line', data: pairs(fitX, hlthFit), borderColor: '#46525c', borderWidth: 3, pointRadius: 0 },
    { data: pairs(insX, insY), pointRadius: 4.5, backgroundColor: 'rgba(239,92,92,0.92)', borderWidth: 0 },
    { data: pairs(hlthX, hlthY), pointRadius: 4.5, backgroundColor: 'rgba(72,84,94,0.9)', borderWidth: 0 },
    { type: 'line', data: pairs(bandX, insBandHi), borderWidth: 0, pointRadius: 0, tension: 0.4, fill: '+1', backgroundColor: 'rgba(239,90,90,0.17)' },
    { type: 'line', data: pairs(bandX, insBandLo), borderWidth: 0, pointRadius: 0, tension: 0.4, fill: false },
    { type: 'line', data: pairs(bandX, hlthBandHi), borderWidth: 0, pointRadius: 0, tension: 0.4, fill: '+1', backgroundColor: 'rgba(80,92,105,0.17)' },
    { type: 'line', data: pairs(bandX, hlthBandLo), borderWidth: 0, pointRadius: 0, tension: 0.4, fill: false }
  ]},
  options: {
    layout: pad([57, 30, 6, 44]),
    scales: {
      x: spine({ type: 'linear', min: 0.01, max: 0.7075, afterFit: fixH(44), afterBuildTicks: setTicks([0.2, 0.4, 0.6]),
        ticks: { font: { size: 20 }, padding: 0, color: '#111', callback: v => v.toFixed(1) },
        title: { display: true, text: '\u03C1\u2090\u1D65', font: { size: 19 }, padding: 0, color: '#111' } }),
      y: spine({ min: 0.631, max: 2.258, afterFit: fixW(57), afterBuildTicks: setTicks([0.8, 1.0, 1.2, 1.4, 1.6, 1.8, 2.0, 2.2]),
        ticks: { font: { size: 20 }, padding: 1, color: '#111', callback: v => v.toFixed(1) },
        title: { display: true, text: 'SWA', font: { size: 19 }, padding: 0, color: '#111' } })
    }
  }
});

// ---------- F, G ----------
function cohenBars(area, m, values, yMin, yMax, ticks, digits, yTitle, extra) {
  return new Chart(mount(area, m), {
    type: 'bar',
    data: { datasets: [{ data: values.map((v, i) => ({ x: i, y: v })), backgroundColor: '#525c90', borderWidth: 0,
      barPercentage: 0.8, categoryPercentage: 1 }] },
    options: {
      layout: pad(m),
      scales: {
        x: spine({ type: 'linear', min: -0.6, max: 3.6, offset: false, afterFit: fixH(m[3]), afterBuildTicks: setTicks([0, 1, 2, 3]),
          ticks: { font: { size: 20 }, padding: 0, color: '#111', callback: v => cycles[v] },
          title: { display: true, text: 'Cycle', font: { size: 18 }, padding: 0, color: '#111' } }),
        y: spine({ min: yMin, max: yMax, afterFit: fixW(m[0]), afterBuildTicks: setTicks(ticks),
          ticks: { font: { size: 20 }, padding: 1, color: '#111', callback: v => v.toFixed(digits) },
          title: { display: true, text: yTitle, font: { size: 18 }, padding: 0, color: '#111' } })
      }
    },
    plugins: extra
  });
}
cohenBars([1134, 1149, 1348, 1363], [70, 30, 12, 45], cohenAv, -0.213, 1.0, [0, 0.25, 0.5, 0.75, 1.0], 2,
  'Cohen\'s d of \u03C1\u2090\u1D65', [makeStars(cohenAvSig)]);
cohenBars([1472, 1150, 1686, 1364], [65, 30, 12, 45], cohenSwa, 0, 0.1632, [0, 0.05, 0.10, 0.15], 2,
  'Cohen\'s d of SWA', []);
</script>
</body>
</html>
